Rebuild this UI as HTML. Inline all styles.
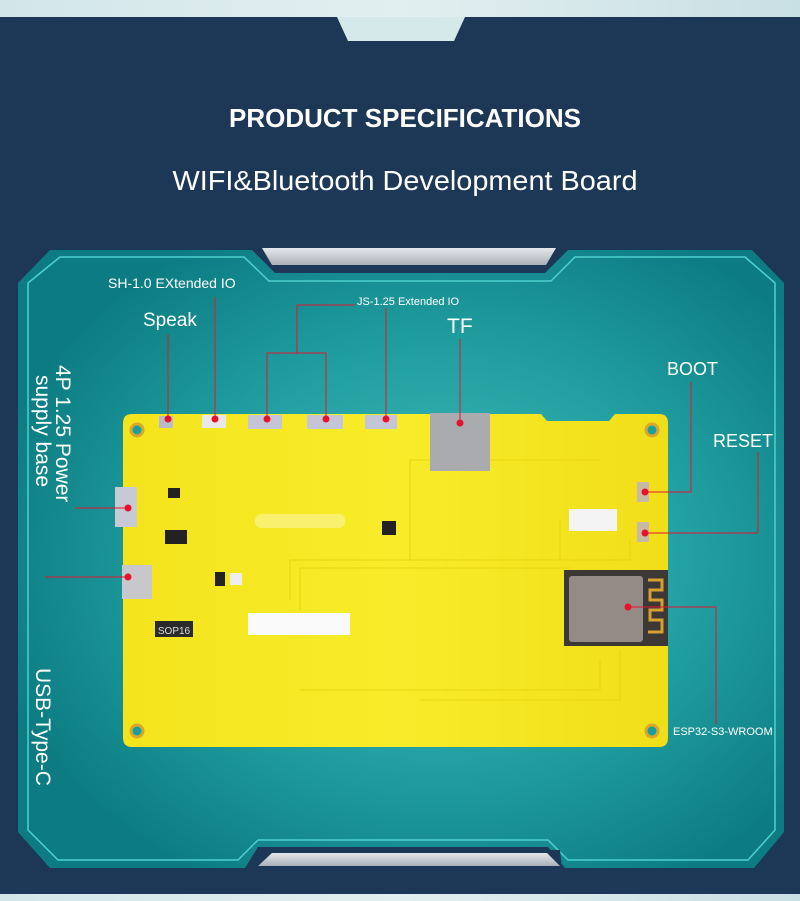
<!DOCTYPE html>
<html><head><meta charset="utf-8"><style>
html,body{margin:0;padding:0;background:#1d3856;}
svg{display:block}
text{font-family:"Liberation Sans","DejaVu Sans",sans-serif;fill:#fff}
</style></head><body>
<svg width="800" height="901" viewBox="0 0 800 901" xmlns="http://www.w3.org/2000/svg">
<defs>
<radialGradient id="tg" cx="0.55" cy="0.5" r="0.6">
<stop offset="0" stop-color="#45bfbd"/><stop offset="0.6" stop-color="#1f9c9e"/><stop offset="1" stop-color="#0c7c82"/>
</radialGradient>
<linearGradient id="yg" x1="0" y1="0" x2="1" y2="0">
<stop offset="0" stop-color="#f3e41c"/><stop offset="0.5" stop-color="#f8ec2a"/><stop offset="1" stop-color="#f0de18"/>
</linearGradient>
<linearGradient id="gb" x1="0" y1="0" x2="0" y2="1">
<stop offset="0" stop-color="#e4e8ec"/><stop offset="1" stop-color="#a9b0b8"/>
</linearGradient>
<linearGradient id="ls" x1="0" y1="0" x2="1" y2="0">
<stop offset="0" stop-color="#d2e6ea"/><stop offset="0.5" stop-color="#e2eff0"/><stop offset="1" stop-color="#c8dfe4"/>
</linearGradient>
</defs>
<rect width="800" height="901" fill="#1d3856"/>
<rect x="0" y="0" width="800" height="17" fill="url(#ls)"/>
<polygon points="337,17 465,17 454,41 348,41" fill="#d5e8ea"/>
<rect x="0" y="894" width="800" height="7" fill="url(#ls)"/>

<text x="405" y="127" font-size="26" font-weight="bold" text-anchor="middle">PRODUCT SPECIFICATIONS</text>
<text x="405" y="190" font-size="28" text-anchor="middle" textLength="465" lengthAdjust="spacingAndGlyphs">WIFI&amp;Bluetooth Development Board</text>

<polygon points="50,250 252,250 275,273 545,273 568,250 752,250 784,283 784,832 754,868 565,868 548,847 258,847 245,868 50,868 18,832 18,283" fill="url(#tg)"/>
<polyline points="28,283 60,257 244,257 269,281 551,281 575,257 745,257 775,283 775,830 748,860 568,860 548,840 258,840 238,860 58,860 28,830 28,283" fill="none" stroke="#4fd0cc" stroke-width="1.5"/>
<polygon points="255,248 562,248 548,268 270,268" fill="#1d3856"/>
<polygon points="262,248 556,248 546,265 272,265" fill="url(#gb)"/>
<polygon points="258,850 560,850 562,869 256,869" fill="#1d3856"/>
<polygon points="272,853 547,853 560,866 258,866" fill="url(#gb)"/>

<path d="M132,414 H541 L547,421 H609 L615,414 H659 Q668,414 668,423 V738 Q668,747 659,747 H132 Q123,747 123,738 V423 Q123,414 132,414 Z" fill="url(#yg)"/>
<g fill="#1a9ea0" stroke="#d9a72a" stroke-width="3">
<circle cx="137" cy="430" r="6"/><circle cx="652" cy="430" r="6"/>
<circle cx="137" cy="731" r="6"/><circle cx="652" cy="731" r="6"/>
</g>
<g fill="none" stroke="#e8d410" stroke-width="1">
<path d="M290,600 V560 H560 V520"/><path d="M300,610 V568 H570"/><path d="M420,700 H620 V650"/>
<path d="M300,690 H600 V660"/><path d="M520,560 H630 V540"/><path d="M410,560 V460 H600"/>
</g>
<rect x="255" y="514" width="90" height="14" rx="6" fill="#f9f070"/>
<rect x="159" y="416" width="14" height="12" fill="#b8bcc8"/>
<rect x="202" y="415" width="24" height="13" fill="#e8e8e8"/>
<rect x="248" y="415" width="34" height="14" fill="#c4c6d8"/>
<rect x="307" y="415" width="36" height="14" fill="#c4c6d8"/>
<rect x="365" y="415" width="32" height="14" fill="#c4c6d8"/>
<rect x="430" y="413" width="60" height="58" fill="#a9abae"/>
<rect x="115" y="487" width="22" height="40" fill="#c7c9d5"/>
<rect x="122" y="565" width="30" height="34" fill="#c8c8cc"/>
<rect x="155" y="621" width="38" height="16" fill="#2a2a2a"/>
<text x="174" y="634" font-size="10" text-anchor="middle" style="fill:#ddd">SOP16</text>
<rect x="248" y="613" width="102" height="22" fill="#fafafa"/>
<rect x="569" y="509" width="48" height="22" fill="#f4f4f4"/>
<rect x="382" y="521" width="14" height="14" fill="#222"/>
<rect x="637" y="482" width="12" height="20" fill="#c8b8a8"/>
<rect x="637" y="522" width="12" height="20" fill="#c8b8a8"/>
<rect x="165" y="530" width="22" height="14" fill="#222"/>
<rect x="168" y="488" width="12" height="10" fill="#222"/>
<rect x="215" y="572" width="10" height="14" fill="#222"/>
<rect x="230" y="573" width="12" height="12" fill="#eee"/>
<rect x="564" y="570" width="104" height="76" fill="#3b3836"/>
<rect x="569" y="576" width="74" height="66" rx="3" fill="#948b86"/>
<path d="M648,580 H662 V590 H650 V600 H662 V610 H650 V620 H662 V632 H648" fill="none" stroke="#d8a030" stroke-width="3"/>

<g stroke="#e0182a" stroke-width="1" fill="none">
<path d="M168,334 V419"/><path d="M215,297 V419"/>
<path d="M355,305 H297 V353 M267,419 V353 H326 V419"/>
<path d="M386,308 V419"/><path d="M460,339 V423"/>
<path d="M691,382 V492 H645"/><path d="M758,452 V533 H645"/>
<path d="M75,508 H128"/><path d="M45,577 H128"/>
<path d="M628,607 H716 V724"/>
</g>
<g fill="#e8102a">
<circle cx="168" cy="419" r="3.5"/><circle cx="215" cy="419" r="3.5"/>
<circle cx="267" cy="419" r="3.5"/><circle cx="326" cy="419" r="3.5"/>
<circle cx="386" cy="419" r="3.5"/><circle cx="460" cy="423" r="3.5"/>
<circle cx="645" cy="492" r="3.5"/><circle cx="645" cy="533" r="3.5"/>
<circle cx="128" cy="508" r="3.5"/><circle cx="128" cy="577" r="3.5"/>
<circle cx="628" cy="607" r="3.5"/>
</g>

<text x="108" y="288" font-size="14">SH-1.0 EXtended IO</text>
<text x="143" y="326" font-size="19">Speak</text>
<text x="357" y="305" font-size="11">JS-1.25 Extended IO</text>
<text x="447" y="333" font-size="21">TF</text>
<text x="667" y="375" font-size="18">BOOT</text>
<text x="713" y="447" font-size="18">RESET</text>
<text x="673" y="735" font-size="11">ESP32-S3-WROOM</text>
<text transform="translate(56,365) rotate(90)" font-size="21">4P 1.25 Power</text>
<text transform="translate(36,375) rotate(90)" font-size="21">supply base</text>
<text transform="translate(36,668) rotate(90)" font-size="21">USB-Type-C</text>
</svg>
</body></html>
